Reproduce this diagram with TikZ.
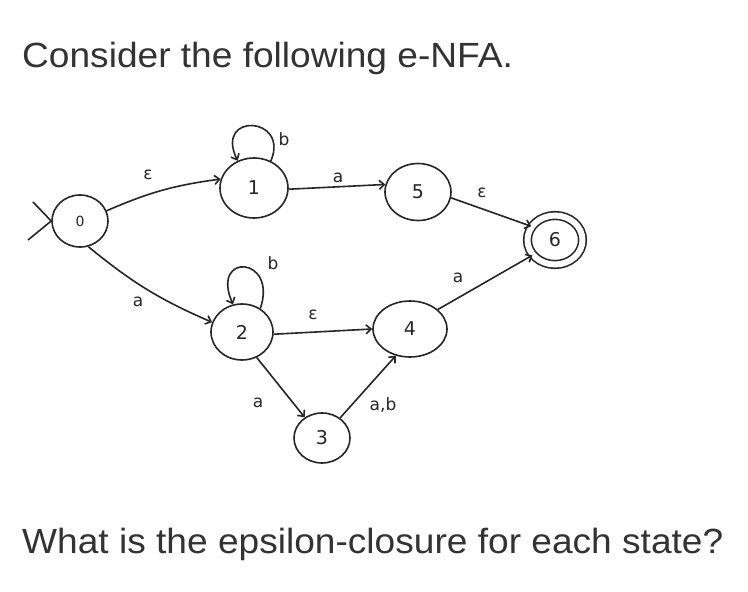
\documentclass[tikz,border=0pt]{standalone}
\usepackage{fontspec}
\usetikzlibrary{arrows.meta, shapes.geometric, positioning}
\newfontfamily\qfont[FakeStretch=1.06]{Liberation Sans}
\newfontfamily\handfont{DejaVu Sans}
\definecolor{inkgray}{HTML}{333333}
\definecolor{penink}{HTML}{262626}

\begin{document}
\begin{tikzpicture}[
            x=1pt, y=-1pt,
            state/.style={
                ellipse, draw=penink, line width=1.6pt, inner sep=0pt,
                text=penink, font=\handfont\fontsize{19}{19}\selectfont
            },
            trans/.style={-{Straight Barb[length=5pt,width=9pt]}, draw=penink, line width=1.6pt},
            lbl/.style={text=penink, inner sep=0pt, font=\handfont\fontsize{17}{17}\selectfont},
            question/.style={anchor=base west, inner sep=0pt, text=inkgray,
                font=\qfont\fontsize{35}{40}\selectfont}
        ]
        \fill[white] (0,0) rectangle (748,592);
        \useasboundingbox (0,0) rectangle (748,592);

        % texts
        \node[question] (title) at (22,67) {Consider the following e-NFA.};
        \node[question] (ask) at (22,553) {What is the epsilon-closure for each state?};

        % states
        \node[state, minimum width=56pt, minimum height=52pt, font=\handfont\fontsize{14}{14}\selectfont] (q0) at (80,221) {0};
        \node[state, minimum width=68pt, minimum height=60pt] (q1) at (254,188) {1};
        \node[state, minimum width=62pt, minimum height=56pt] (q2) at (242,332) {2};
        \node[state, minimum width=56pt, minimum height=50pt] (q3) at (322,438) {3};
        \node[state, minimum width=74pt, minimum height=56pt] (q4) at (410,329) {4};
        \node[state, minimum width=66pt, minimum height=57pt] (q5) at (418,192) {5};
        \node[state, double, double distance=6pt, minimum width=55pt, minimum height=49pt] (q6) at (555,240) {6};

        % start marker
        \coordinate (startA) at (33,202);
        \coordinate (startB) at (28,240);
        \draw[penink, line width=1.6pt] (startA) -- (q0.west) -- (startB);

        % transitions
        \draw[trans] (q0.21) to[bend left=8] (q1.165);
        \draw[trans] (q0.-72) to[bend right=8] (q2.162);
        \draw[trans] (q1.58) .. controls (290,116) and (214,112) .. (q1.121);
        \draw[trans] (q2.52) .. controls (278,256) and (210,252) .. (q2.108);
        \draw[trans] (q1.-2) -- (q5.167);
        \draw[trans] (q2.-4) -- (q4.180);
        \draw[trans] (q2.-60) -- (q3.130);
        \draw[trans] (q3.48) -- (q4.-118);
        \draw[trans] (q5.-10) -- (q6.150);
        \draw[trans] (q4.35) -- (q6.-146);

        % labels
        \node[lbl] (l01) at (148,175) {ε};
        \node[lbl] (l02) at (138,302) {a};
        \node[lbl] (l11) at (284,139) {b};
        \node[lbl] (l22) at (273,263) {b};
        \node[lbl] (l15) at (338,178) {a};
        \node[lbl] (l24) at (313,315) {ε};
        \node[lbl] (l23) at (258,403) {a};
        \node[lbl] (l34) at (383,405) {a,b};
        \node[lbl] (l56) at (482,193) {ε};
        \node[lbl] (l46) at (458,278) {a};
    \end{tikzpicture}
\end{document}
